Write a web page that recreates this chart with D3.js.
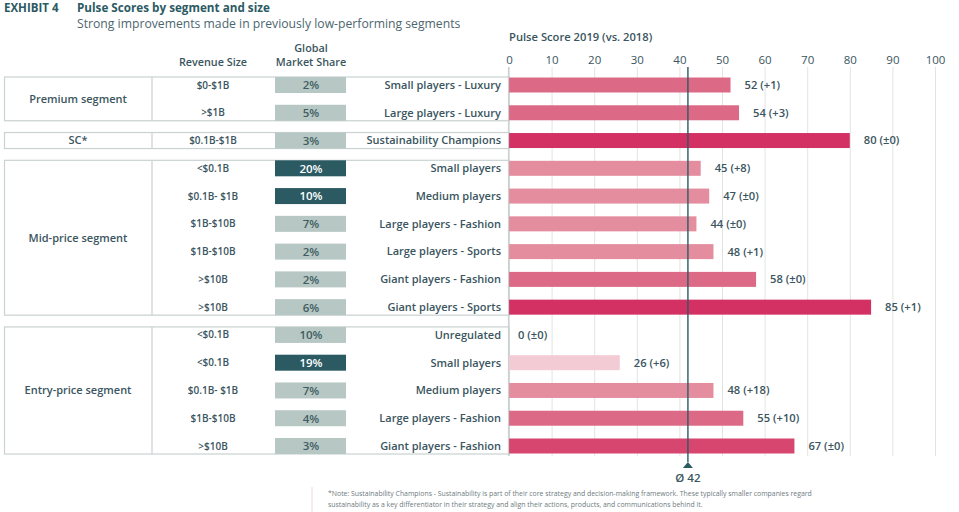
<!DOCTYPE html>
<html>
<head>
<meta charset="utf-8">
<script src="https://cdn.jsdelivr.net/npm/d3@7.9.0/dist/d3.min.js"></script>
<style>
  body { margin: 0; background: #fff; }
  svg { display: block; font-family: "Open Sans", sans-serif; }
</style>
</head>
<body>
<div id="chart"></div>
<script>
// segments and how many rows each spans
const segmentNames = ['Premium segment', 'SC*', 'Mid-price segment', 'Entry-price segment'];
const segmentSizes = [2, 1, 6, 5];

const revenue = ['$0-$1B', '>$1B', '$0.1B-$1B', '<$0.1B', '$0.1B- $1B', '$1B-$10B', '$1B-$10B',
  '>$10B', '>$10B', '<$0.1B', '<$0.1B', '$0.1B- $1B', '$1B-$10B', '>$10B'];
const marketShare = [2, 5, 3, 20, 10, 7, 2, 2, 6, 10, 19, 7, 4, 3];
const shareHighlight = [0, 0, 0, 1, 1, 0, 0, 0, 0, 0, 1, 0, 0, 0];
const players = ['Small players - Luxury', 'Large players - Luxury', 'Sustainability Champions',
  'Small players', 'Medium players', 'Large players - Fashion', 'Large players - Sports',
  'Giant players - Fashion', 'Giant players - Sports', 'Unregulated', 'Small players',
  'Medium players', 'Large players - Fashion', 'Giant players - Fashion'];
const scores = [52, 54, 80, 45, 47, 44, 48, 58, 85, 0, 26, 48, 55, 67];
const changes = ['+1', '+3', '±0', '+8', '±0', '±0', '+1', '±0', '+1', '±0', '+6', '+18', '+10', '±0'];
const average = 42;

const width = 959;
const height = 512;
const textColor = '#3a5560';
const teal = '#2b5a63';

const svg = d3.select('#chart').append('svg')
  .attr('width', width)
  .attr('height', height);

const rows = d3.range(scores.length);
const y = d3.scalePoint().domain(rows).range([85, 446]);
const x = d3.scaleLinear().domain([0, 100]).range([509, 935]);
const barColor = d3.scaleThreshold()
  .domain([30, 50, 60, 70])
  .range(['#f3cbd4', '#e38d9f', '#dc6a86', '#d7466e', '#d33163']);

const axisTop = 67, axisBottom = 456;

// title
svg.append('text').attr('x', 4).attr('y', 12)
  .attr('fill', teal).attr('font-weight', 700).attr('font-size', 11.5)
  .text('EXHIBIT 4');
svg.append('text').attr('x', 77).attr('y', 12)
  .attr('fill', teal).attr('font-weight', 700).attr('font-size', 11.7)
  .text('Pulse Scores by segment and size');
svg.append('text').attr('x', 77).attr('y', 27.5)
  .attr('fill', '#4d666e').attr('font-size', 12.2)
  .text('Strong improvements made in previously low-performing segments');

// column headers
const header = svg.append('g').attr('fill', textColor).attr('font-size', 10.8)
  .attr('font-weight', 600).attr('text-anchor', 'middle');
header.append('text').attr('x', 213).attr('y', 66).text('Revenue Size');
header.append('text').attr('x', 311).attr('y', 51.5).text('Global');
header.append('text').attr('x', 311).attr('y', 65.5).text('Market Share');
svg.append('text').attr('x', 509).attr('y', 40.5)
  .attr('fill', textColor).attr('font-size', 11.2).attr('font-weight', 600)
  .text('Pulse Score 2019 (vs. 2018)');

// gridlines
svg.append('g')
  .attr('transform', `translate(0,${axisTop})`)
  .call(d3.axisBottom(x).ticks(10).tickFormat('').tickSize(axisBottom - axisTop))
  .call(g => g.select('.domain').remove())
  .call(g => g.selectAll('line').attr('stroke', '#e2e4e4'));

// tick labels
svg.append('g')
  .attr('transform', `translate(0,${axisTop})`)
  .call(d3.axisTop(x).ticks(10).tickSize(0).tickPadding(3.5))
  .call(g => g.select('.domain').remove())
  .call(g => g.selectAll('text').attr('fill', textColor).attr('font-size', 11.5)
    .attr('font-family', '"Open Sans", sans-serif'));

// segment boxes
let start = 0;
const boxes = svg.append('g');
segmentNames.forEach((name, i) => {
  const first = start, last = start + segmentSizes[i] - 1;
  const top = y(first) - 8, bottom = y(last) + 8;
  boxes.append('rect')
    .attr('x', 4.5).attr('y', top)
    .attr('width', x(0) - 4.5).attr('height', bottom - top)
    .attr('fill', 'none').attr('stroke', '#c9d1d1').attr('stroke-width', 1.2);
  boxes.append('line')
    .attr('x1', 152).attr('x2', 152).attr('y1', top).attr('y2', bottom)
    .attr('stroke', '#c9d1d1').attr('stroke-width', 1.2);
  boxes.append('text')
    .attr('x', 78).attr('y', (top + bottom) / 2).attr('dy', '0.35em')
    .attr('text-anchor', 'middle').attr('fill', textColor)
    .attr('font-size', 11).attr('font-weight', 600)
    .text(name);
  start += segmentSizes[i];
});

// table rows
const row = svg.append('g').selectAll('g')
  .data(rows)
  .join('g')
  .attr('transform', d => `translate(0,${y(d)})`);

row.append('text')
  .attr('x', 213).attr('dy', '0.35em').attr('text-anchor', 'middle')
  .attr('fill', textColor).attr('font-size', 10).attr('font-weight', 600)
  .text(d => revenue[d]);

row.append('rect')
  .attr('x', 275).attr('y', -8).attr('width', 71).attr('height', 16)
  .attr('fill', d => shareHighlight[d] ? teal : '#b7c7c4');

row.append('text')
  .attr('x', 311).attr('dy', '0.38em').attr('text-anchor', 'middle')
  .attr('fill', d => shareHighlight[d] ? '#fff' : '#3f5d62')
  .attr('font-size', 11.5).attr('font-weight', 600)
  .text(d => marketShare[d] + '%');

row.append('text')
  .attr('x', 501).attr('dy', '0.35em').attr('text-anchor', 'end')
  .attr('fill', textColor).attr('font-size', 11).attr('font-weight', 600)
  .text(d => players[d]);

// bars
row.append('rect')
  .attr('x', x(0)).attr('y', -7.5)
  .attr('width', d => x(scores[d]) - x(0)).attr('height', 15)
  .attr('fill', d => barColor(scores[d]));

row.append('text')
  .attr('x', d => x(scores[d]) + (scores[d] ? 14 : 9)).attr('dy', '0.35em')
  .attr('fill', textColor).attr('font-size', 11.2).attr('font-weight', 600)
  .text(d => `${scores[d]} (${changes[d]})`);

// axis line at zero
svg.append('line')
  .attr('x1', x(0) - 0.5).attr('x2', x(0) - 0.5)
  .attr('y1', axisTop).attr('y2', axisBottom)
  .attr('stroke', '#c9d1d1').attr('stroke-width', 1.2);

// average marker
const ax = x(average);
svg.append('line')
  .attr('x1', ax).attr('x2', ax).attr('y1', axisTop).attr('y2', 462)
  .attr('stroke', teal).attr('stroke-width', 1.4);
svg.append('path')
  .attr('d', `M${ax},462L${ax - 5},468L${ax + 5},468Z`)
  .attr('fill', teal);
svg.append('text')
  .attr('x', ax).attr('y', 482).attr('text-anchor', 'middle')
  .attr('fill', textColor).attr('font-size', 11.5).attr('font-weight', 600)
  .text('Ø ' + average);

// footnote
svg.append('line')
  .attr('x1', 312).attr('x2', 312).attr('y1', 487).attr('y2', 512)
  .attr('stroke', '#f2d6dd');
const note = svg.append('g').attr('fill', '#6e7b80').attr('font-size', 6.9);
note.append('text').attr('x', 328).attr('y', 496)
  .text('*Note: Sustainability Champions - Sustainability is part of their core strategy and decision-making framework. These typically smaller companies regard');
note.append('text').attr('x', 328).attr('y', 507)
  .text('sustainability as a key differentiator in their strategy and align their actions, products, and communications behind it.');
</script>
</body>
</html>
